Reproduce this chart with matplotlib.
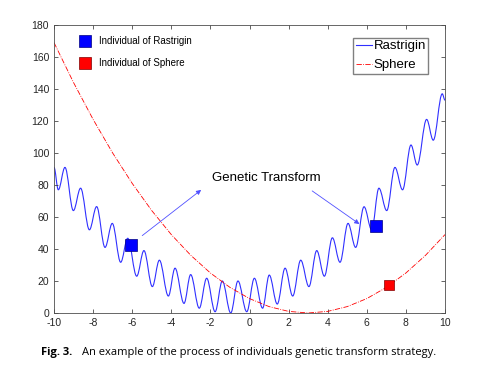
import matplotlib
matplotlib.use('Agg')
import matplotlib.pyplot as plt
from matplotlib.path import Path
from matplotlib.patches import PathPatch

plt.rcParams['font.family'] = ['Liberation Sans', 'DejaVu Sans']
plt.rcParams['axes.unicode_minus'] = False

# Rastrigin: peaks / troughs
rast_x = [-10, -9.78, -9.44, -9.01, -8.64, -8.19, -7.82, -7.39, -7.02, -6.59,
          -6.23, -5.77, -5.40, -4.97, -4.61, -4.15, -3.81, -3.35, -3.01, -2.57,
          -2.19, -1.76, -1.39, -0.96, -0.59, -0.14, 0.25, 0.67, 1.01, 1.42,
          1.82, 2.21, 2.62, 3.04, 3.44, 3.83, 4.24, 4.63, 5.04, 5.43,
          5.86, 6.25, 6.62, 7.02, 7.44, 7.83, 8.26, 8.58, 9.06, 9.40,
          9.86, 10]
rast_y = [91, 77, 91, 64, 78, 52, 66.5, 41, 56, 31.7,
          46.7, 23, 39, 16.5, 33, 10.6, 28, 6, 24, 3,
          21.7, 0.8, 20, 0, 20, 0.8, 21.7, 3, 23.7, 5.6,
          28, 10.6, 33, 16.5, 39, 23, 47, 31.7, 56, 41,
          66.4, 52, 78, 64, 91, 77, 105, 92.5, 121, 108,
          137, 133]

# Sphere
sph_x = [-10, -9, -8, -7, -6, -5, -4, -3, -2, -1, 0, 1, 2, 3, 4, 5, 6, 7, 8, 9, 10]
sph_y = [169, 144, 121, 100, 81, 64, 49, 36, 25, 16, 9, 4, 1, 0, 1, 4, 9, 16, 25, 36, 49]

# individuals
ind_rast_x = [-6.06, 6.45]
ind_rast_y = [42.3, 54.4]
ind_sph_x = [7.14]
ind_sph_y = [17.5]

fig = plt.figure(figsize=(4.84, 3.83), dpi=100)
ax = fig.add_axes([0.1116, 0.1828, 0.8078, 0.7519])

# smooth line through the extrema (horizontal tangents)
k = 0.36
verts = [(rast_x[0], rast_y[0])]
codes = [Path.MOVETO]
for x0, y0, x1, y1 in zip(rast_x[:-1], rast_y[:-1], rast_x[1:], rast_y[1:]):
    dx = x1 - x0
    verts += [(x0 + k * dx, y0), (x1 - k * dx, y1), (x1, y1)]
    codes += [Path.CURVE4] * 3
ax.add_patch(PathPatch(Path(verts, codes), fill=False, edgecolor='#3030ff', lw=0.8))
rast_line, = ax.plot([], [], color='#3030ff', lw=0.8, label='Rastrigin')

sph_line, = ax.plot(sph_x, sph_y, color='red', lw=0.6, ls='-.', label='Sphere')

p1, = ax.plot(ind_rast_x, ind_rast_y, 's', color='blue', ms=8, mec='#000080', mew=0.5,
              label='Individual of Rastrigin')
p2, = ax.plot(ind_sph_x, ind_sph_y, 's', color='red', ms=7, mec='#800000', mew=0.5,
              label='Individual of Sphere')

# arrows
arrow_kw = dict(arrowstyle='-|>', color='#5050ff', lw=0.6, mutation_scale=7)
ax.annotate('', xy=(-2.36, 78), xytext=(-5.6, 47.3), arrowprops=arrow_kw)
ax.annotate('', xy=(5.74, 54.6), xytext=(3.09, 77.3), arrowprops=arrow_kw)
ax.text(0.84, 84.4, 'Genetic Transform', fontsize=9.5, ha='center', va='center')

ax.set_xlim(-10, 10)
ax.set_ylim(0, 180)
ax.set_xticks(range(-10, 11, 2))
ax.set_yticks(range(0, 181, 20))
ax.tick_params(direction='in', top=True, right=True, length=3, width=0.5,
               labelsize=7.5, colors='0.15')
for s in ax.spines.values():
    s.set_linewidth(0.6)
    s.set_color('0.3')

leg1 = ax.legend(handles=[p1, p2], loc='upper left', bbox_to_anchor=(0.0586, 0.974),
                 frameon=False, fontsize=7, handlelength=0.95, handletextpad=0.95,
                 labelspacing=1.2, borderaxespad=0, markerscale=1.0)
for h in leg1.legend_handles:
    h.set_markersize(8)
ax.add_artist(leg1)
ax.legend(handles=[rast_line, sph_line], loc='upper right', bbox_to_anchor=(0.957, 0.956),
          fontsize=9.5, fancybox=False, edgecolor='0.5', framealpha=1,
          handlelength=1.27, handletextpad=0.08, borderpad=0.18, labelspacing=0.5,
          borderaxespad=0)

fig.text(41 / 484, 0.079, 'Fig. 3.', fontsize=8, fontweight='bold', va='center',
         family=['Open Sans', 'DejaVu Sans'])
fig.text(81.7 / 484, 0.079, 'An example of the process of individuals genetic transform strategy.',
         fontsize=8, va='center', family=['Open Sans', 'DejaVu Sans'])

fig.savefig('out.png', dpi=100)
